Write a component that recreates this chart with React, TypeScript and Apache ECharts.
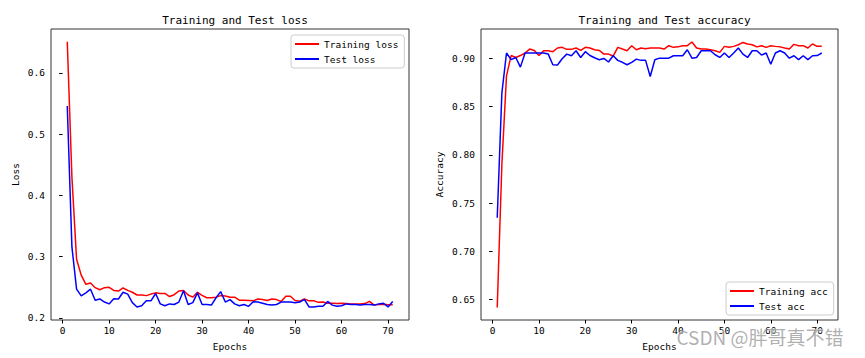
import React, { useEffect, useRef } from "react";
import * as echarts from "echarts";

const epochs = Array.from({ length: 71 }, (_, i) => i + 1);

const trainLoss = [
  0.651, 0.43, 0.296, 0.27, 0.255, 0.257, 0.2495, 0.246, 0.2495, 0.25,
  0.245, 0.244, 0.249, 0.245, 0.242, 0.2375, 0.2375, 0.2365, 0.239, 0.241,
  0.24, 0.24, 0.235, 0.238, 0.244, 0.245, 0.2375, 0.234, 0.242, 0.237,
  0.233, 0.233, 0.234, 0.2365, 0.236, 0.234, 0.234, 0.229, 0.229, 0.2285,
  0.228, 0.231, 0.23, 0.2285, 0.231, 0.23, 0.227, 0.2354, 0.2354, 0.2285,
  0.2275, 0.231, 0.228, 0.228, 0.2255, 0.226, 0.224, 0.224, 0.2235, 0.224,
  0.2235, 0.223, 0.223, 0.223, 0.2235, 0.227, 0.221, 0.222, 0.2225, 0.2215, 0.2215,
];
const testLoss = [
  0.546, 0.316, 0.247, 0.236, 0.241, 0.247, 0.229, 0.231, 0.226, 0.223,
  0.2315, 0.231, 0.242, 0.239, 0.225, 0.218, 0.22, 0.228, 0.228, 0.24,
  0.223, 0.22, 0.223, 0.222, 0.226, 0.2446, 0.222, 0.225, 0.241, 0.222,
  0.222, 0.221, 0.233, 0.243, 0.226, 0.23, 0.223, 0.22, 0.222, 0.219,
  0.2266, 0.226, 0.224, 0.222, 0.221, 0.222, 0.226, 0.226, 0.226, 0.225,
  0.226, 0.2305, 0.218, 0.218, 0.219, 0.219, 0.227, 0.221, 0.219, 0.22,
  0.223, 0.222, 0.222, 0.221, 0.222, 0.222, 0.221, 0.223, 0.224, 0.218, 0.227,
];
const trainAcc = [
  0.642, 0.79, 0.882, 0.903, 0.901, 0.903, 0.9056, 0.9097, 0.9083, 0.903,
  0.908, 0.908, 0.907, 0.9108, 0.9115, 0.9094, 0.9094, 0.9108, 0.9083, 0.9115,
  0.9108, 0.909, 0.9083, 0.9045, 0.9045, 0.9025, 0.9115, 0.9097, 0.908, 0.9132,
  0.909, 0.9108, 0.91, 0.9108, 0.9108, 0.9108, 0.9097, 0.9132, 0.9115, 0.912,
  0.9132, 0.9132, 0.917, 0.9108, 0.9097, 0.9097, 0.909, 0.908, 0.9063, 0.9125,
  0.9115, 0.9125, 0.9142, 0.9166, 0.915, 0.9142, 0.912, 0.9132, 0.9115, 0.9132,
  0.9125, 0.912, 0.9108, 0.9097, 0.9146, 0.9132, 0.9132, 0.9108, 0.915, 0.9125, 0.9125,
];
const testAcc = [
  0.735, 0.864, 0.9056, 0.8987, 0.901, 0.891, 0.9056, 0.9056, 0.9056, 0.9056,
  0.9056, 0.9045, 0.8935, 0.8932, 0.8997, 0.9045, 0.9028, 0.908, 0.901, 0.907,
  0.903, 0.9007, 0.8987, 0.9, 0.8963, 0.9028, 0.898, 0.896, 0.8935, 0.896,
  0.8993, 0.898, 0.898, 0.8813, 0.8987, 0.9003, 0.9003, 0.9003, 0.9028, 0.9028,
  0.9028, 0.909, 0.9003, 0.901, 0.908, 0.908, 0.908, 0.9038, 0.901, 0.9056,
  0.901, 0.9056, 0.9108, 0.9045, 0.901, 0.908, 0.908, 0.9035, 0.9056, 0.894,
  0.9056, 0.908, 0.9056, 0.9003, 0.9028, 0.8987, 0.9028, 0.8987, 0.9028, 0.903, 0.9056,
];

const xTicks = [0, 10, 20, 30, 40, 50, 60, 70];
const lossTicks = [0.2, 0.3, 0.4, 0.5, 0.6];
const accTicks = [0.65, 0.7, 0.75, 0.8, 0.85, 0.9];

const FONT = "'DejaVu Sans Mono', monospace";

function pairs(vals: number[]) {
  return epochs.map((e, i) => [e, vals[i]]);
}

function xAxisCfg(gridIndex: number) {
  return {
    type: "value",
    gridIndex,
    min: -2.5,
    max: 74.5,
    name: "Epochs",
    nameLocation: "middle",
    nameGap: 21,
    nameTextStyle: { fontFamily: FONT, fontSize: 9.5, color: "#000" },
    axisLine: { show: false },
    splitLine: { show: false },
    axisTick: { show: true, length: 3.5, lineStyle: { color: "#000" }, customValues: xTicks },
    axisLabel: {
      show: true,
      margin: 5,
      fontFamily: FONT,
      fontSize: 9.5,
      color: "#000",
      customValues: xTicks,
      formatter: (v: number) => String(Math.round(v)),
    },
  };
}

function yAxisCfg(gridIndex: number, name: string, min: number, max: number, ticks: number[], dec: number, gap: number) {
  return {
    type: "value",
    gridIndex,
    min,
    max,
    name,
    nameLocation: "middle",
    nameGap: gap,
    nameTextStyle: { fontFamily: FONT, fontSize: 9.5, color: "#000" },
    axisLine: { show: false },
    splitLine: { show: false },
    axisTick: { show: true, length: 3.5, lineStyle: { color: "#000" }, customValues: ticks },
    axisLabel: {
      show: true,
      margin: 6,
      fontFamily: FONT,
      fontSize: 9.5,
      color: "#000",
      customValues: ticks,
      formatter: (v: number) => v.toFixed(dec),
    },
  };
}

function legendCfg(left: number, top: number, names: string[]) {
  return {
    data: names,
    orient: "vertical",
    left,
    top,
    icon: "rect",
    itemWidth: 24,
    itemHeight: 2,
    itemGap: 3,
    padding: [3, 6, 3, 4],
    backgroundColor: "#fff",
    borderColor: "#ccc",
    borderWidth: 1,
    borderRadius: 3,
    textStyle: { fontFamily: FONT, fontSize: 9.5, color: "#000", lineHeight: 12 },
  };
}

function lineSeries(name: string, vals: number[], color: string, idx: number) {
  return {
    name,
    type: "line",
    xAxisIndex: idx,
    yAxisIndex: idx,
    data: pairs(vals),
    showSymbol: false,
    symbol: "none",
    color,
    lineStyle: { color, width: 1.5 },
  };
}

export default function App() {
  const ref = useRef<HTMLDivElement>(null);
  useEffect(() => {
    document.body.style.margin = "0";
    const chart = echarts.init(ref.current!, null, { renderer: "svg" });
    chart.setOption({
      animation: false,
      backgroundColor: "#fff",
      title: [
        {
          text: "Training and Test loss",
          left: 230,
          top: 10,
          textAlign: "center",
          textStyle: { fontFamily: FONT, fontSize: 11, fontWeight: "normal", color: "#000" },
        },
        {
          text: "Training and Test accuracy",
          left: 659.5,
          top: 10,
          textAlign: "center",
          textStyle: { fontFamily: FONT, fontSize: 11, fontWeight: "normal", color: "#000" },
        },
      ],
      grid: [
        { left: 51, top: 29, width: 358, height: 291, show: true, borderColor: "#333", borderWidth: 1, backgroundColor: "transparent" },
        { left: 481, top: 29, width: 357, height: 291, show: true, borderColor: "#333", borderWidth: 1, backgroundColor: "transparent" },
      ],
      xAxis: [xAxisCfg(0), xAxisCfg(1)],
      yAxis: [
        yAxisCfg(0, "Loss", 0.1967, 0.6718, lossTicks, 1, 31),
        yAxisCfg(1, "Accuracy", 0.629, 0.9305, accTicks, 2, 37),
      ],
      legend: [
        legendCfg(291, 35, ["Training loss", "Test loss"]),
        legendCfg(726, 282, ["Training acc", "Test acc"]),
      ],
      series: [
        lineSeries("Training loss", trainLoss, "#ff0000", 0),
        lineSeries("Test loss", testLoss, "#0000ff", 0),
        lineSeries("Training acc", trainAcc, "#ff0000", 1),
        lineSeries("Test acc", testAcc, "#0000ff", 1),
      ],
      graphic: [
        {
          type: "text",
          left: 676,
          top: 326,
          z: 100,
          style: {
            text: "CSDN @胖哥真不错",
            font: "19px 'Noto Sans CJK SC', sans-serif",
            fill: "rgba(150,150,150,0.75)",
            stroke: "rgba(255,255,255,0.6)",
            lineWidth: 1,
          },
        },
      ],
    });
    return () => chart.dispose();
  }, []);
  return <div ref={ref} style={{ width: 865, height: 358 }} />;
}
